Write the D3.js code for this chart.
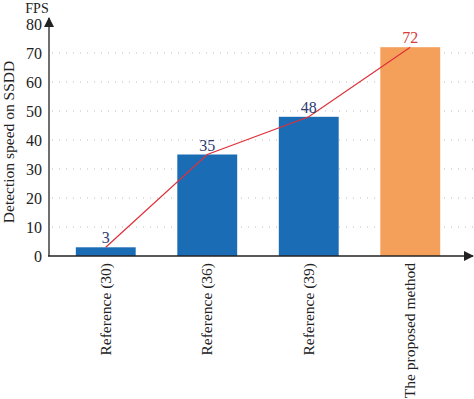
<!DOCTYPE html>
<html>
<head>
<meta charset="utf-8">
<script src="https://cdn.jsdelivr.net/npm/d3@7"></script>
<style>
body{margin:0;background:#fff;}
text{font-family:"Liberation Serif","DejaVu Serif",serif;}
</style>
</head>
<body>
<div class="container"></div>
<script>
const methods = ["Reference (30)","Reference (36)","Reference (39)","The proposed method"];
const fps = [3,35,48,72];
const barColors = ["#1a6db5","#1a6db5","#1a6db5","#f5a05a"];
const labelColors = ["#2d3a70","#2d3a70","#2d3a70","#d93a3a"];
const yTicks = [0,10,20,30,40,50,60,70,80];

const width = 474, height = 399;
const svg = d3.select(".container").append("svg").attr("width",width).attr("height",height)

const xScale = d3.scaleBand().domain(methods).range([55,461]).paddingInner(0.41).paddingOuter(0.205)
const yScale = d3.scaleLinear().domain([0,80]).range([256,24])

const defs = svg.append("defs")
defs.append("marker").attr("id","arr").attr("viewBox","0 0 10 10").attr("refX",9).attr("refY",5)
    .attr("markerWidth",10).attr("markerHeight",10).attr("markerUnits","userSpaceOnUse").attr("orient","auto")
    .append("path").attr("d","M0,0 L10,5 L0,10 Z").attr("fill","#222")

// grid lines
svg.selectAll(".grid").data(yTicks.filter(d=> d>0 && d<80)).enter().append("line")
    .attr("x1",52).attr("x2",474)
    .attr("y1",(d)=> yScale(d)).attr("y2",(d)=> yScale(d))
    .attr("stroke","#bbb").attr("stroke-width",1).attr("stroke-dasharray","1,6")

// bars
svg.selectAll(".bar").data(fps).enter().append("rect")
    .attr("x",(d,i)=> xScale(methods[i]))
    .attr("y",(d)=> yScale(d))
    .attr("width",xScale.bandwidth())
    .attr("height",(d)=> yScale(0)-yScale(d))
    .attr("fill",(d,i)=> barColors[i])

// axes
svg.append("line").attr("x1",49).attr("x2",49).attr("y1",256).attr("y2",18)
    .attr("stroke","#222").attr("stroke-width",1.3).attr("marker-end","url(#arr)")
svg.append("line").attr("x1",48).attr("x2",473).attr("y1",256).attr("y2",256)
    .attr("stroke","#222").attr("stroke-width",1.3).attr("marker-end","url(#arr)")

const yAxis = d3.axisLeft(yScale).tickValues(yTicks).tickSize(0).tickPadding(7)
const yg = svg.append("g").attr("transform","translate(49,0)").call(yAxis)
yg.select(".domain").remove()
yg.selectAll("text").style("font-family","'Liberation Serif',serif").style("font-size","16px").attr("fill","#222")

// trend line
const line = d3.line().x((d,i)=> xScale(methods[i])+xScale.bandwidth()/2).y((d)=> yScale(d))
svg.append("path").datum(fps).attr("d",line).attr("fill","none").attr("stroke","#e0303a").attr("stroke-width",1.2)

// value labels
svg.selectAll(".val").data(fps).enter().append("text")
    .attr("x",(d,i)=> xScale(methods[i])+xScale.bandwidth()/2)
    .attr("y",(d)=> yScale(d)-4)
    .attr("text-anchor","middle")
    .attr("fill",(d,i)=> labelColors[i])
    .style("font-size","16px")
    .text((d)=> d)

// category labels
svg.selectAll(".cat").data(methods).enter().append("text")
    .attr("transform",(d)=> "translate(" + (xScale(d)+xScale.bandwidth()/2+5) + ",263) rotate(-90)")
    .attr("text-anchor","end")
    .attr("fill","#222")
    .style("font-size","15.5px")
    .text((d)=> d)

svg.append("text").attr("x",37).attr("y",13).attr("text-anchor","middle").attr("fill","#222").style("font-size","14px").text("FPS")
svg.append("text").attr("transform","translate(14,142) rotate(-90)").attr("text-anchor","middle")
    .attr("fill","#222").style("font-size","15.5px").text("Detection speed on SSDD")
</script>
</body>
</html>
